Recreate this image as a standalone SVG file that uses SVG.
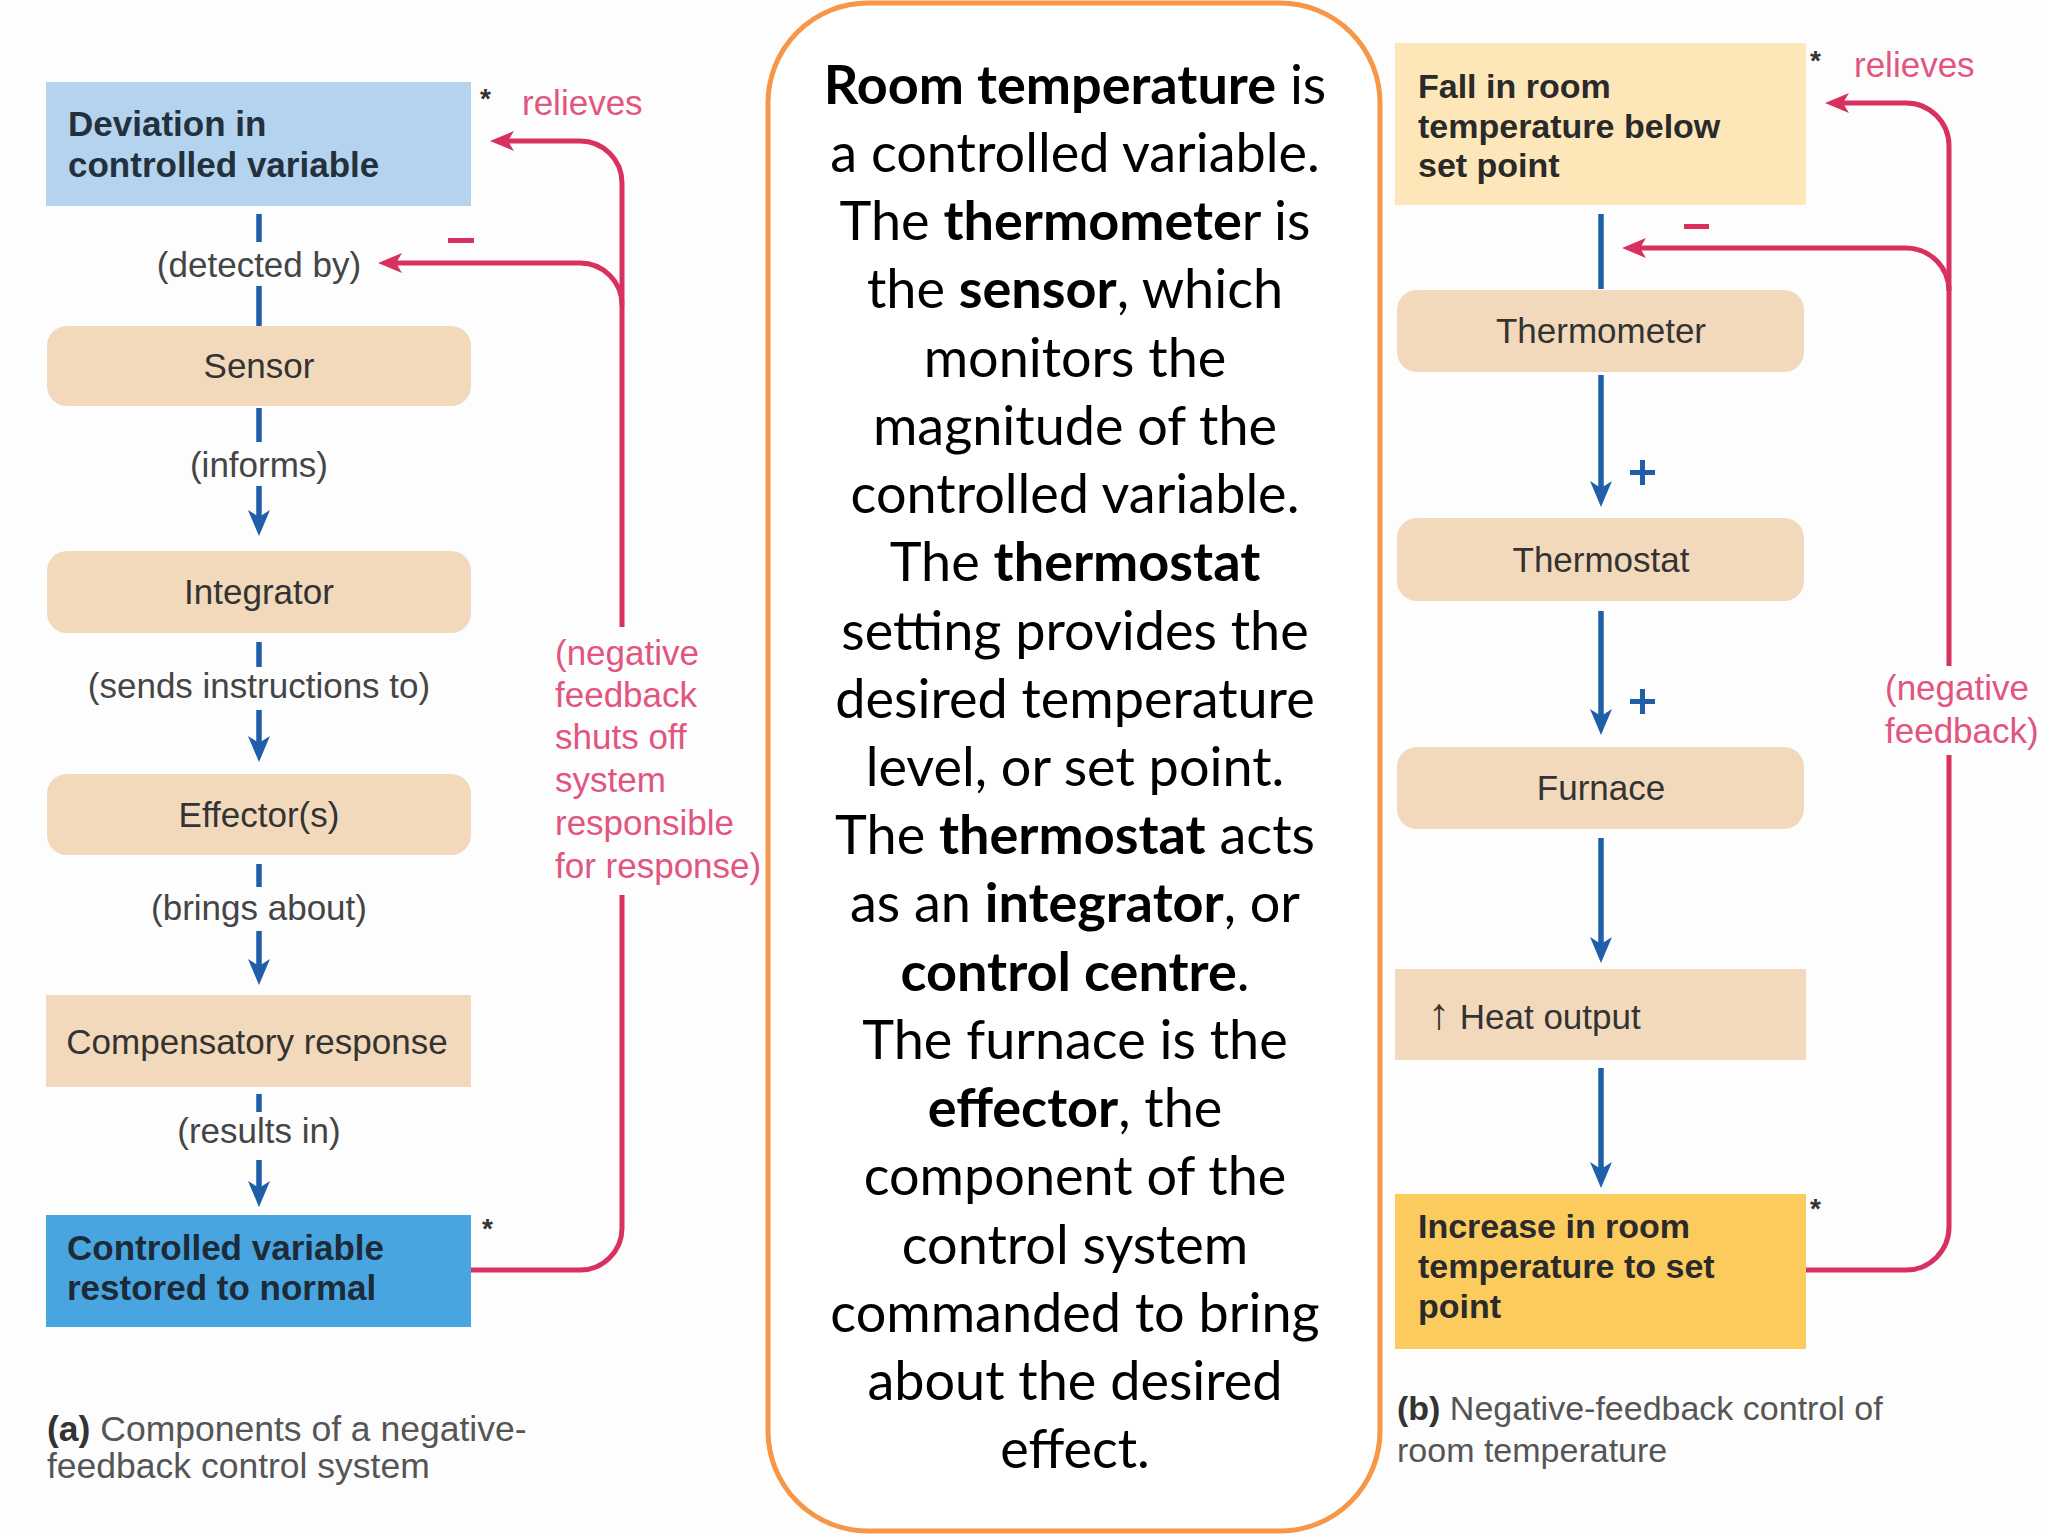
<svg xmlns="http://www.w3.org/2000/svg" width="2048" height="1536" viewBox="0 0 2048 1536">
<defs>
<style>
.lbl{font-family:"Liberation Sans",Arial,sans-serif;font-size:35px;fill:#454545}
.ntx{font-family:"Liberation Sans",Arial,sans-serif;font-size:35px;fill:#333333}
.btx{font-family:"Liberation Sans",Arial,sans-serif;font-size:34px;font-weight:bold;fill:#2a2a2a}
.pk{font-family:"Liberation Sans",Arial,sans-serif;font-size:35px;fill:#e2557f}
.ast{font-family:"Liberation Sans",Arial,sans-serif;font-size:28px;font-weight:bold;fill:#333}
.cap{font-family:"Liberation Sans",Arial,sans-serif;font-size:35.5px;fill:#555}
.mid{font-family:Lato,"Open Sans",sans-serif;font-size:54px;fill:#000;text-anchor:middle}
.mid tspan.b{font-weight:bold}
.tan{fill:#f3d9bb}
.blu{stroke:#1f5ea8;stroke-width:5.5;fill:none}
.pnk{stroke:#d8305f;stroke-width:5;fill:none}
</style>
<marker id="ab" viewBox="-1 -12 28 24" markerWidth="28" markerHeight="24" refX="16" refY="0" orient="auto" markerUnits="userSpaceOnUse">
<path d="M0,-11 L26,0 L0,11 L7,0 Z" fill="#1f5ea8"/>
</marker>
<marker id="ap" viewBox="-1 -11 26 22" markerWidth="26" markerHeight="22" refX="14" refY="0" orient="auto" markerUnits="userSpaceOnUse">
<path d="M0,-10 L24,0 L0,10 L6,0 Z" fill="#d8305f"/>
</marker>
</defs>
<rect x="0" y="0" width="2048" height="1536" fill="#fdfdfd"/>

<!-- Left panel nodes -->
<g id="deviation">
<rect x="46" y="82" width="425" height="124" fill="#b3d3ee"/>
<text class="btx" x="68" y="136" style="font-size:35px;fill:#24303c">Deviation in</text>
<text class="btx" x="68" y="177" style="font-size:35px;fill:#24303c">controlled variable</text>
</g>
<g id="sensor">
<rect class="tan" x="47" y="326" width="424" height="80" rx="20"/>
<text class="ntx" x="259" y="378" text-anchor="middle">Sensor</text>
</g>
<g id="integrator">
<rect class="tan" x="47" y="551" width="424" height="82" rx="20"/>
<text class="ntx" x="259" y="604" text-anchor="middle">Integrator</text>
</g>
<g id="effector">
<rect class="tan" x="47" y="774" width="424" height="81" rx="20"/>
<text class="ntx" x="259" y="827" text-anchor="middle">Effector(s)</text>
</g>
<g id="compensatory">
<rect class="tan" x="46" y="995" width="425" height="92"/>
<text class="ntx" x="257" y="1054" text-anchor="middle">Compensatory response</text>
</g>
<g id="restored">
<rect x="46" y="1215" width="425" height="112" fill="#48a5e0"/>
<text class="btx" x="67" y="1260" style="font-size:35px;fill:#1d2a38">Controlled variable</text>
<text class="btx" x="67" y="1300" style="font-size:35px;fill:#1d2a38">restored to normal</text>
</g>

<!-- Left labels -->
<g id="left-labels">
<text class="lbl" x="259" y="277" text-anchor="middle">(detected by)</text>
<text class="lbl" x="259" y="477" text-anchor="middle">(informs)</text>
<text class="lbl" x="259" y="698" text-anchor="middle">(sends instructions to)</text>
<text class="lbl" x="259" y="920" text-anchor="middle">(brings about)</text>
<text class="lbl" x="259" y="1143" text-anchor="middle">(results in)</text>
<text class="ast" x="480" y="108">*</text>
<text class="ast" x="482" y="1238">*</text>
<text class="pk" x="522" y="115">relieves</text>
<rect x="448" y="238" width="26" height="5" fill="#d8305f"/>
<text class="pk" x="555" y="665">(negative</text>
<text class="pk" x="555" y="707">feedback</text>
<text class="pk" x="555" y="749">shuts off</text>
<text class="pk" x="555" y="792">system</text>
<text class="pk" x="555" y="835">responsible</text>
<text class="pk" x="555" y="878">for response)</text>
<text class="cap" x="47" y="1441"><tspan font-weight="bold" fill="#333">(a)</tspan> Components of a negative-</text>
<text class="cap" x="47" y="1478">feedback control system</text>
</g>

<!-- Centre text box -->
<g id="centre-box">
<rect x="768" y="3" width="612" height="1528" rx="100" ry="100" fill="#ffffff" stroke="#f79646" stroke-width="5"/>
<text class="mid" x="1075" y="104"><tspan class="b">Room temperature</tspan> is</text>
<text class="mid" x="1075" y="172">a controlled variable.</text>
<text class="mid" x="1075" y="240">The <tspan class="b">thermomete</tspan>r is</text>
<text class="mid" x="1075" y="308">the <tspan class="b">sensor</tspan>, which</text>
<text class="mid" x="1075" y="377">monitors the</text>
<text class="mid" x="1075" y="445">magnitude of the</text>
<text class="mid" x="1075" y="513">controlled variable.</text>
<text class="mid" x="1075" y="581"><tspan>The </tspan><tspan class="b">thermostat</tspan></text>
<text class="mid" x="1075" y="650">setting provides the</text>
<text class="mid" x="1075" y="718">desired temperature</text>
<text class="mid" x="1075" y="786">level, or set point.</text>
<text class="mid" x="1075" y="854">The <tspan class="b">thermostat</tspan> acts</text>
<text class="mid" x="1075" y="922">as an <tspan class="b">integrator</tspan>, or</text>
<text class="mid" x="1075" y="991"><tspan class="b">control centre</tspan>.</text>
<text class="mid" x="1075" y="1059">The furnace is the</text>
<text class="mid" x="1075" y="1127"><tspan class="b">effector</tspan>, the</text>
<text class="mid" x="1075" y="1195">component of the</text>
<text class="mid" x="1075" y="1264">control system</text>
<text class="mid" x="1075" y="1332">commanded to bring</text>
<text class="mid" x="1075" y="1400">about the desired</text>
<text class="mid" x="1075" y="1468">effect.</text>
</g>

<!-- Right panel nodes -->
<g id="fall">
<rect x="1395" y="43" width="411" height="162" fill="#fde6b8"/>
<text class="btx" x="1418" y="98">Fall in room</text>
<text class="btx" x="1418" y="138">temperature below</text>
<text class="btx" x="1418" y="177">set point</text>
</g>
<g id="thermometer">
<rect class="tan" x="1397" y="290" width="407" height="82" rx="20"/>
<text class="ntx" x="1601" y="343" text-anchor="middle">Thermometer</text>
</g>
<g id="thermostat">
<rect class="tan" x="1397" y="518" width="407" height="83" rx="20"/>
<text class="ntx" x="1601" y="572" text-anchor="middle">Thermostat</text>
</g>
<g id="furnace">
<rect class="tan" x="1397" y="747" width="407" height="82" rx="20"/>
<text class="ntx" x="1601" y="800" text-anchor="middle">Furnace</text>
</g>
<g id="heat-output">
<rect class="tan" x="1395" y="969" width="411" height="91"/>
<text class="ntx" x="1428" y="1029"><tspan font-size="44px">↑</tspan> Heat output</text>
</g>
<g id="increase">
<rect x="1395" y="1194" width="411" height="155" fill="#fccb5e"/>
<text class="btx" x="1418" y="1238">Increase in room</text>
<text class="btx" x="1418" y="1278">temperature to set</text>
<text class="btx" x="1418" y="1318">point</text>
</g>

<!-- Right labels -->
<g id="right-labels">
<text class="ast" x="1810" y="70">*</text>
<text class="ast" x="1810" y="1218">*</text>
<text class="pk" x="1854" y="77">relieves</text>
<rect x="1684" y="224" width="25" height="5" fill="#d8305f"/>
<text class="pk" x="1885" y="700">(negative</text>
<text class="pk" x="1885" y="743">feedback)</text>
<g fill="#1f5ea8">
<rect x="1630" y="470" width="25" height="5"/>
<rect x="1640" y="460" width="5" height="25"/>
<rect x="1630" y="699" width="25" height="5"/>
<rect x="1640" y="689" width="5" height="25"/>
</g>
<text class="cap" x="1397" y="1420" style="font-size:34px"><tspan font-weight="bold" fill="#333">(b)</tspan> Negative-feedback control of</text>
<text class="cap" x="1397" y="1462" style="font-size:34px">room temperature</text>
</g>

<!-- Connectors -->
<g id="connectors">
<path class="blu" d="M259,214 V242"/>
<path class="blu" d="M259,286 V326"/>
<path class="blu" d="M259,408 V442"/>
<path class="blu" d="M259,486 V526" marker-end="url(#ab)"/>
<path class="blu" d="M259,642 V667"/>
<path class="blu" d="M259,710 V752" marker-end="url(#ab)"/>
<path class="blu" d="M259,864 V887"/>
<path class="blu" d="M259,931 V975" marker-end="url(#ab)"/>
<path class="blu" d="M259,1094 V1112"/>
<path class="blu" d="M259,1160 V1197" marker-end="url(#ab)"/>

<path class="pnk" d="M471,1270 H580 A42,42 0 0 0 622,1228 V895"/>
<path class="pnk" d="M622,627 V183 A42,42 0 0 0 580,141 H500" marker-end="url(#ap)"/>
<path class="pnk" d="M622,305 A42,42 0 0 0 580,263 H388" marker-end="url(#ap)"/>

<path class="blu" d="M1601,214 V289"/>
<path class="blu" d="M1601,375 V497" marker-end="url(#ab)"/>
<path class="blu" d="M1601,611 V725" marker-end="url(#ab)"/>
<path class="blu" d="M1601,838 V953" marker-end="url(#ab)"/>
<path class="blu" d="M1601,1068 V1178" marker-end="url(#ab)"/>

<path class="pnk" d="M1806,1270 H1906 A43,43 0 0 0 1949,1227 V755"/>
<path class="pnk" d="M1949,666 V146 A43,43 0 0 0 1906,103 H1835" marker-end="url(#ap)"/>
<path class="pnk" d="M1949,291 A43,43 0 0 0 1906,248 H1632" marker-end="url(#ap)"/>
</g>
</svg>
